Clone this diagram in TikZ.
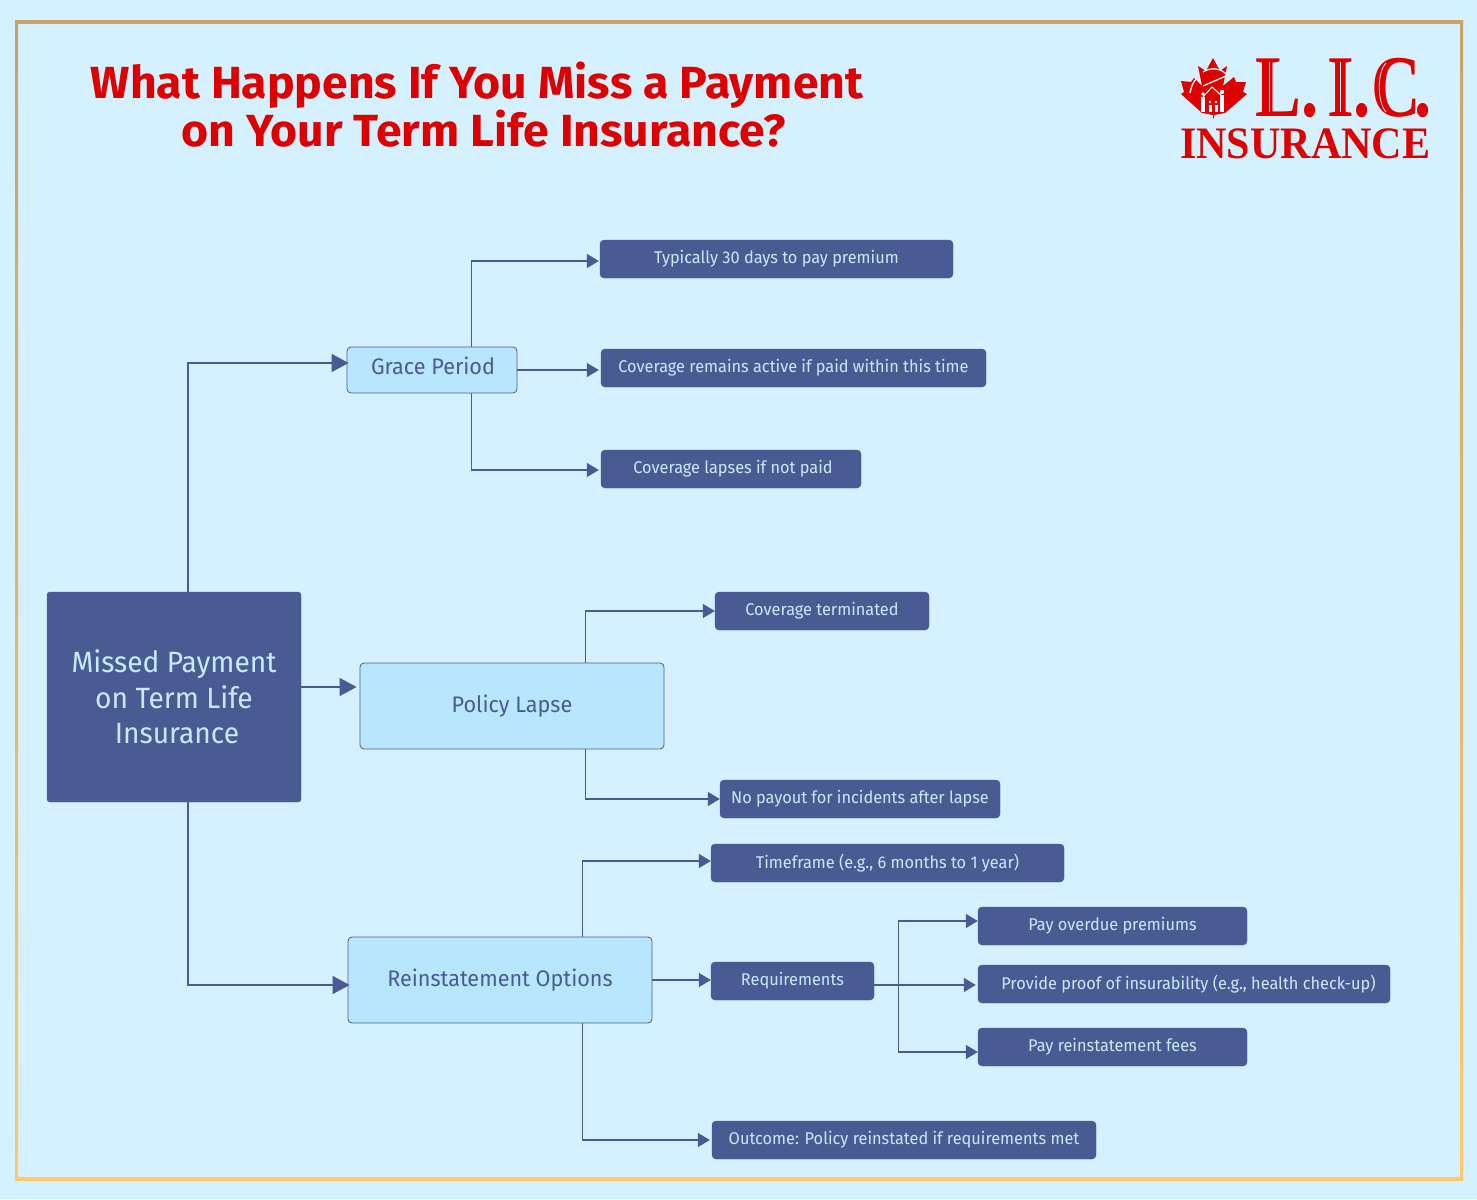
\documentclass[tikz,border=0pt]{standalone}
\usepackage{fontspec}
\setmainfont{Fira Sans}
\newfontfamily\bodyfont[FakeStretch=0.96]{Fira Sans}
\newfontfamily\headfont[FakeStretch=1.03]{Fira Sans}
\newfontfamily\logofont[FakeStretch=0.78]{Liberation Serif}
\newfontfamily\logowide[FakeStretch=0.935]{Liberation Serif}
\usetikzlibrary{calc,arrows.meta}
\definecolor{skybg}{HTML}{D5F0FF}
\definecolor{navybox}{HTML}{4A5B93}
\definecolor{lightbox}{HTML}{B8E6FF}
\definecolor{palefont}{HTML}{C8EAFF}
\definecolor{titlered}{HTML}{DE0000}
\definecolor{goldtan}{HTML}{C4A46A}
\definecolor{goldpale}{HTML}{FFDDA0}
\definecolor{goldorange}{HTML}{FFC870}
\begin{document}
\begin{tikzpicture}[x=1pt,y=-1pt]
\tikzstyle{dark} = [draw=navybox, fill=navybox, rounded corners=4pt, text=palefont, inner sep=0pt, minimum height=38pt, font=\bodyfont\fontsize{17}{20}\selectfont]
\tikzstyle{light} = [draw=navybox, fill=lightbox, rounded corners=4pt, text=navybox, inner sep=0pt, line width=.8pt, font=\bodyfont\fontsize{22.5}{28}\selectfont]
\tikzstyle{link} = [draw=navybox, line width=1.4pt, -{Triangle[length=12pt,width=14pt]}]
\tikzstyle{biglink} = [draw=navybox, line width=1.4pt, -{Triangle[length=17pt,width=18pt]}]
\useasboundingbox (0,0) rectangle (1477,1199);
\fill[skybg] (0,0) rectangle (1477,1199);
% frame
\shade[left color=goldtan, middle color=goldpale, right color=goldtan] (15,21) rectangle (1463,24);
\shade[left color=goldorange, middle color=goldtan, right color=goldorange] (15,1177) rectangle (1463,1180);
\shade[top color=goldtan, middle color=goldtan, bottom color=goldorange] (15,21) rectangle (18,1180);
\shade[top color=goldtan, middle color=goldtan, bottom color=goldorange] (1460,21) rectangle (1463,1180);
% title
\node[text=titlered, align=center, font=\headfont\fontsize{45}{48}\selectfont\bfseries] (title) at (477,105) {What Happens If You Miss a Payment\\\hspace*{13pt}on Your Term Life Insurance?};
% logo
\fill[titlered] (1213,58) -- (1220,71) -- (1227,66) -- (1223,86) -- (1234,77) -- (1236,82) -- (1246,82) -- (1243,92) -- (1247,94) -- (1225,113) -- (1214,115) -- (1214,118) -- (1213,118) -- (1213,115) -- (1202,113) -- (1181,94) -- (1184,92) -- (1181,81) -- (1191,82) -- (1194,78) -- (1202,86) -- (1198,66) -- (1206,71) -- cycle;
\draw[white, line width=1.3pt] (1190,93) .. controls (1191,87) and (1193,82) .. (1197,78);
\draw[skybg, line width=1.3pt] (1203,72) .. controls (1211,67) and (1220,68) .. (1226,74);
\draw[white, line width=1.3pt] (1203,86) .. controls (1210,83) and (1219,79) .. (1226,76);
\draw[white, line width=1pt] (1203,97) -- (1212,87) -- (1222,96);
\foreach \px/\py/\pw in {1203/94/2.2, 1222/92/2.4, 1210/102/1.5, 1216/102/1.5} {
  \fill[white] (\px,\py) circle (\pw*.9pt);
  \fill[white] (\px-\pw,\py+3) rectangle (\px+\pw,112);
}
\node[text=titlered, anchor=base west, inner sep=0pt, text depth=0pt, font=\logofont\bfseries\fontsize{88}{88}\selectfont] (logotop) at (1255,116) {L.\kern9pt I.C\kern-6pt.};
\node[text=titlered, anchor=base west, inner sep=0pt, font=\logowide\bfseries\fontsize{45}{45}\selectfont] (logobottom) at (1180,158) {INSURANCE};
\draw[skybg, line width=.8pt] (1269,62) -- (1269,112);
\draw[skybg, line width=.8pt] (1340,62) -- (1340,112);
\draw[skybg, line width=.8pt] (1386,63) .. controls (1377,72) and (1377,102) .. (1386,112);
% main box
\node[draw=navybox, fill=navybox, rounded corners=3pt, text=palefont, minimum width=254pt, minimum height=210pt, inner sep=0pt, align=center, font=\bodyfont\fontsize{29.3}{35.5}\selectfont] (missed) at (174,697) {Missed Payment\\on Term Life\\\hspace*{6pt}Insurance};
% branches
\node[light, minimum width=170pt, minimum height=46pt, text depth=8pt] (grace) at (432,370) {\hspace*{2pt}Grace Period};
\node[light, minimum width=304pt, minimum height=86pt] (lapse) at (512,706) {Policy Lapse};
\node[light, minimum width=304pt, minimum height=86pt] (reinstate) at (500,980) {Reinstatement Options};
% leaves
\node[dark, minimum width=353pt] (typical) at (776.5,259) {Typically 30 days to pay premium};
\node[dark, minimum width=385pt] (remains) at (793.5,368) {Coverage remains active if paid within this time};
\node[dark, minimum width=260pt] (lapses) at (731,469) {\hspace*{4pt}Coverage lapses if not paid};
\node[dark, minimum width=214pt] (terminated) at (822,611) {Coverage terminated};
\node[dark, minimum width=280pt] (nopayout) at (860,799) {No payout for incidents after lapse};
\node[dark, minimum width=353pt] (timeframe) at (887.5,863) {Timeframe (e.g., 6 months to 1 year)};
\node[dark, minimum width=163pt] (requirements) at (792.5,981) {Requirements};
\node[dark, minimum width=269pt] (overdue) at (1112.5,926) {Pay overdue premiums};
\node[dark, minimum width=412pt] (proof) at (1184,984) {\hspace*{9pt}Provide proof of insurability (e.g., health check-up)};
\node[dark, minimum width=269pt] (fees) at (1112.5,1047) {Pay reinstatement fees};
\node[dark, minimum width=384pt] (outcome) at (904,1140) {Outcome: Policy reinstated if requirements met};
% connectors
\draw[biglink] ($(missed.north west)+(141,0)$) |- ($(grace.west)+(2,-7)$);
\draw[biglink] ($(missed.east)+(0,-10)$) -- ($(lapse.west)+(-3,-19)$);
\draw[biglink] ($(missed.south west)+(141,0)$) |- ($(reinstate.west)+(2,5)$);
\draw[link] ($(grace.north west)+(125,0)$) |- ($(typical.west)+(-1,2)$);
\draw[link] (grace.east) -- ($(remains.west)+(-2,2)$);
\draw[link] ($(grace.south west)+(125,0)$) |- ($(lapses.west)+(-2,1)$);
\draw[link] ($(lapse.north west)+(226,0)$) |- (terminated.west);
\draw[link] ($(lapse.south west)+(226,0)$) |- (nopayout.west);
\draw[link] ($(reinstate.north west)+(235,0)$) |- ($(timeframe.west)+(0,-2)$);
\draw[link] (reinstate.east) -- ($(requirements.west)+(0,-1)$);
\draw[link] ($(reinstate.south west)+(235,0)$) |- ($(outcome.west)+(-2,0)$);
\coordinate (fork) at ($(requirements.east)+(24,4)$);
\draw[link] ($(requirements.east)+(0,4)$) -- ($(proof.west)+(-2,1)$);
\draw[link] (fork) |- ($(overdue.west)+(0,-5)$);
\draw[link] (fork) |- ($(fees.west)+(0,5)$);
\end{tikzpicture}
\end{document}
